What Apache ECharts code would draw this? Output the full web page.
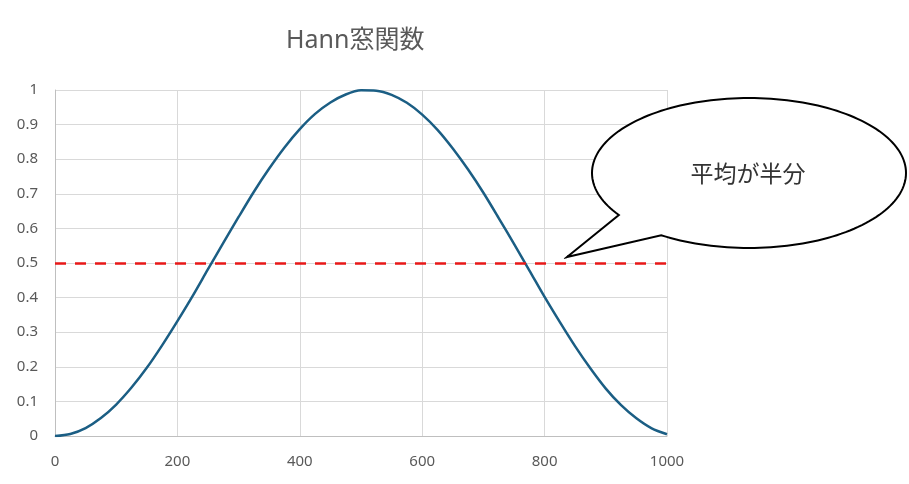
<!DOCTYPE html>
<html>
<head>
<meta charset="utf-8">
<script src="https://cdn.jsdelivr.net/npm/echarts@6/dist/echarts.min.js"></script>
<style>
  html, body { margin: 0; padding: 0; background: #fff; }
  #main { width: 909px; height: 484px; }
</style>
</head>
<body>
<div id="main"></div>
<script>
// values
var xs = [0, 25, 50, 75, 100, 125, 150, 175, 200, 225, 250, 275, 300, 325, 350, 375, 400, 425, 450, 475, 500,
          525, 550, 575, 600, 625, 650, 675, 700, 725, 750, 775, 800, 825, 850, 875, 900, 925, 950, 975, 1000];
var hann = [0, 0.006, 0.023, 0.052, 0.091, 0.14, 0.197, 0.262, 0.332, 0.405, 0.482, 0.558, 0.633, 0.706, 0.773, 0.834, 0.887, 0.931, 0.964, 0.987, 0.999,
            0.998, 0.986, 0.963, 0.929, 0.885, 0.831, 0.77, 0.703, 0.63, 0.555, 0.479, 0.402, 0.329, 0.259, 0.195, 0.137, 0.089, 0.051, 0.022, 0.005];
var meanLevel = 0.5;
var calloutText = '平均が半分';

var font = '"Noto Sans", "Noto Sans CJK JP", sans-serif';
var jpFont = '"Noto Sans CJK JP", sans-serif';

var points = [];
for (var i = 0; i < xs.length; i++) {
    points.push([xs[i], hann[i]]);
}

// speech bubble outline: ellipse arc from one side of the tail round to the other, then the tip
function bubblePoints(cx, cy, rx, ry, fromDeg, toDeg, tip) {
    var pts = [];
    for (var a = fromDeg; a <= toDeg; a += 2) {
        var t = a * Math.PI / 180;
        pts.push([cx + rx * Math.cos(t), cy + ry * Math.sin(t)]);
    }
    pts.push(tip);
    return pts;
}

var chart = echarts.init(document.getElementById('main'));
chart.setOption({
    backgroundColor: '#fff',
    animation: false,
    title: {
        text: 'Hann窓関数',
        left: 281,
        top: 23,
        textStyle: { color: '#595959', fontSize: 25, fontWeight: 'normal', fontFamily: font }
    },
    grid: { left: 55, right: 242, top: 90, bottom: 48 },
    xAxis: {
        type: 'value',
        min: 0, max: 1000, interval: 200,
        axisLine: { show: true, lineStyle: { color: '#bfbfbf', width: 1 } },
        axisTick: { show: false },
        axisLabel: {
            color: '#595959', fontSize: 15, margin: 18, fontFamily: font,
            formatter: function (v) { return String(v); }
        },
        splitLine: { show: true, lineStyle: { color: '#d9d9d9', width: 1 } }
    },
    yAxis: {
        type: 'value',
        min: 0, max: 1, interval: 0.1,
        axisLine: { show: true, lineStyle: { color: '#bfbfbf', width: 1 } },
        axisTick: { show: false },
        axisLabel: { color: '#595959', fontSize: 15, margin: 17, fontFamily: font },
        splitLine: { show: true, lineStyle: { color: '#d9d9d9', width: 1 } }
    },
    series: [{
        type: 'line',
        data: points,
        smooth: 0.3,
        showSymbol: false,
        lineStyle: { color: '#1b5e84', width: 2.5 },
        markLine: {
            silent: true,
            symbol: 'none',
            label: { show: false },
            lineStyle: { color: '#e81818', width: 2.5, type: [11, 9] },
            data: [{ yAxis: meanLevel }]
        }
    }],
    graphic: [{
        type: 'polygon',
        z: 100,
        shape: { points: bubblePoints(749, 173, 157, 75, 146, 485, [567, 257]) },
        style: { fill: '#fff', stroke: '#000', lineWidth: 2, lineJoin: 'miter' }
    }, {
        type: 'text',
        z: 101,
        x: 748,
        y: 173,
        style: {
            text: calloutText,
            fill: '#333',
            font: '23px ' + jpFont,
            align: 'center',
            verticalAlign: 'middle'
        }
    }]
});
</script>
</body>
</html>
